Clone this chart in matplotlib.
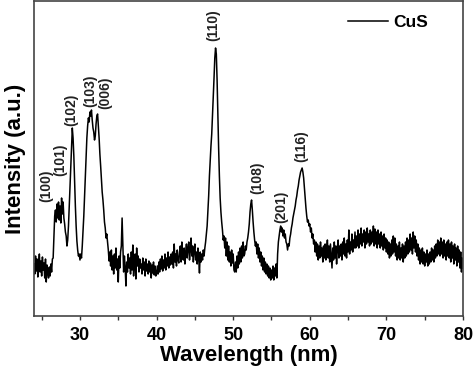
import numpy as np
import matplotlib
matplotlib.use("Agg")
import matplotlib.pyplot as plt

plt.rcParams['font.family'] = ['Liberation Sans', 'DejaVu Sans']

# wavelength axis, step 0.1 from 24 to 80
x_start = 24.0
x_step = 0.1

# intensity (a.u.), 20 values per row (2 nm)
intensity = [
    52, 42, 60, 45, 57, 39, 52, 62, 44, 55, 40, 59, 46, 53, 38, 57, 34, 51, 43, 38,        # 24
    49, 40, 52, 44, 57, 58, 80, 100, 106, 94, 112, 98, 114, 96, 110, 93, 118, 102, 114, 98,  # 26
    92, 84, 80, 70, 76, 90, 110, 130, 150, 172, 188, 178, 160, 135, 110, 90, 75, 66, 60, 62,  # 28
    56, 62, 58, 70, 84, 100, 120, 140, 160, 178, 190, 198, 194, 204, 200, 206, 196, 188, 184, 176,  # 30
    180, 192, 200, 202, 190, 178, 162, 150, 136, 124, 116, 106, 94, 88, 78, 82, 74, 66, 55, 64,  # 32
    50, 66, 46, 60, 42, 62, 48, 68, 46, 57, 34, 60, 48, 64, 70, 98, 70, 44, 60, 48,        # 34
    30, 54, 44, 62, 48, 58, 42, 64, 46, 71, 40, 56, 62, 37, 68, 50, 60, 44, 57, 48,        # 36
    52, 42, 58, 46, 54, 40, 57, 45, 52, 42, 55, 44, 53, 38, 51, 43, 54, 41, 50, 40,        # 38
    42, 50, 42, 54, 44, 57, 47, 60, 45, 56, 48, 62, 46, 58, 50, 64, 48, 59, 51, 62,        # 40
    52, 64, 48, 72, 54, 62, 50, 66, 56, 53, 64, 70, 54, 74, 58, 56, 68, 52, 64, 72,        # 42
    58, 68, 74, 56, 66, 78, 60, 70, 54, 66, 72, 56, 64, 52, 68, 58, 43, 64, 54, 62,        # 44
    56, 66, 60, 68, 74, 82, 90, 104, 120, 140, 156, 170, 182, 200, 218, 238, 258, 268, 262, 236,  # 46
    200, 168, 140, 118, 104, 94, 86, 76, 80, 68, 78, 60, 74, 56, 70, 54, 64, 50, 66, 53,  # 48
    62, 46, 44, 54, 44, 60, 48, 64, 52, 68, 54, 70, 58, 74, 60, 62, 70, 66, 74, 78,        # 50
    84, 92, 104, 112, 116, 106, 94, 84, 76, 70, 74, 62, 72, 58, 68, 54, 64, 50, 60, 46,    # 52
    58, 44, 54, 42, 52, 40, 50, 38, 48, 36, 46, 38, 50, 36, 48, 40, 52, 38, 62, 74,        # 54
    80, 86, 90, 84, 88, 80, 86, 78, 82, 74, 72, 66, 72, 70, 78, 82, 88, 92, 98, 102,       # 56
    106, 110, 116, 120, 126, 130, 136, 140, 144, 146, 148, 144, 138, 128, 118, 108, 100, 94, 96, 90,  # 58
    92, 84, 88, 78, 82, 72, 76, 64, 74, 60, 72, 56, 70, 58, 74, 60, 68, 54, 70, 58,        # 60
    72, 56, 68, 76, 58, 70, 54, 72, 60, 48, 68, 56, 74, 58, 70, 52, 68, 76, 58, 70,        # 62
    60, 72, 56, 74, 62, 78, 60, 72, 58, 76, 64, 86, 62, 74, 66, 82, 64, 76, 68, 84,        # 64
    68, 80, 70, 86, 68, 82, 72, 88, 70, 82, 74, 86, 68, 84, 72, 88, 74, 82, 70, 86,        # 66
    72, 84, 74, 90, 70, 87, 72, 84, 68, 86, 72, 82, 68, 84, 70, 80, 66, 82, 68, 78,        # 68
    64, 76, 62, 74, 58, 72, 60, 76, 62, 80, 64, 78, 60, 72, 56, 70, 58, 74, 56, 68,        # 70
    58, 72, 54, 70, 58, 74, 60, 78, 62, 76, 64, 82, 66, 78, 62, 84, 68, 80, 64, 76,        # 72
    60, 72, 56, 68, 52, 66, 54, 68, 52, 64, 50, 62, 54, 66, 50, 62, 52, 64, 54, 68,        # 74
    56, 66, 54, 70, 58, 72, 60, 76, 62, 74, 60, 78, 62, 74, 58, 76, 60, 72, 56, 74,        # 76
    60, 76, 58, 72, 54, 74, 58, 70, 52, 72, 56, 68, 50, 70, 54, 66, 48, 64, 44, 58,        # 78
    48,                                                                                    # 80
]
wavelength = x_start + x_step * np.arange(len(intensity))

# peak labels and where they sit
peak_labels = ['(100)', '(101)', '(102)', '(103)', '(006)', '(110)', '(108)', '(201)', '(116)']
label_x = [25.65, 27.45, 28.8, 31.35, 33.3, 47.4, 53.1, 56.3, 58.95]
label_y = [130, 156, 206, 225, 223, 291, 138, 109, 170]

fig = plt.figure(figsize=(4.74, 3.74), dpi=100)
ax = fig.add_axes([34/474, 58/374, 429/474, 315/374])

ax.plot(wavelength, intensity, color='black', lw=1.1, label='CuS')

for lab, lx, ly in zip(peak_labels, label_x, label_y):
    ax.text(lx, ly, lab, rotation=90, ha='center', va='center', fontsize=10,
            fontweight='bold', color='#222222')

ax.set_xlim(24, 80)
ax.set_ylim(0, 315)
ax.set_xticks([30, 40, 50, 60, 70, 80])
ax.set_xticks([25, 35, 45, 55, 65, 75], minor=True)
ax.set_yticks([])
ax.tick_params(axis='x', which='both', direction='out', length=3, width=1, colors='#333333',
               labelcolor='black', labelsize=13, pad=5)
for lbl in ax.get_xticklabels():
    lbl.set_fontweight('bold')
for sp in ax.spines.values():
    sp.set_color('#444444')
    sp.set_linewidth(1.2)

ax.set_xlabel('Wavelength (nm)', fontsize=16, fontweight='bold', labelpad=1)
ax.set_ylabel('Intensity (a.u.)', fontsize=16, fontweight='bold', labelpad=6)

leg = ax.legend(loc='upper right', bbox_to_anchor=(0.918, 0.955), frameon=False,
                handlelength=2.3, handletextpad=0.3, borderpad=0, borderaxespad=0,
                prop={'weight': 'bold', 'size': 12.5})

fig.savefig('out.png', dpi=100)
